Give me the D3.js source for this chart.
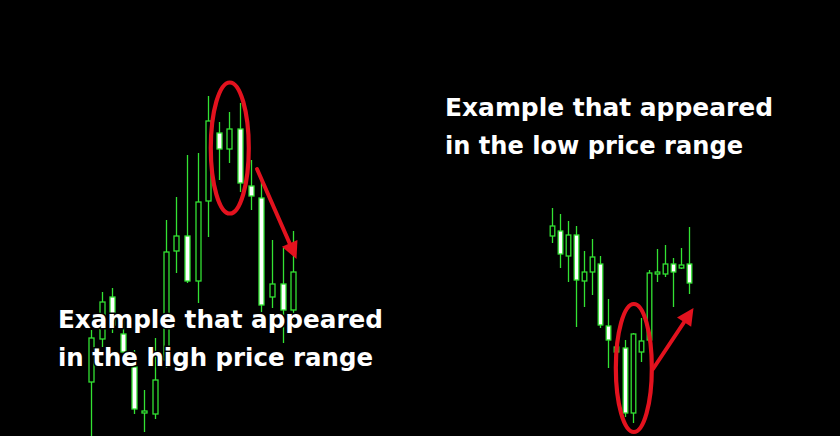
<!DOCTYPE html>
<html>
<head>
<meta charset="utf-8">
<script src="https://cdn.jsdelivr.net/npm/d3@7"></script>
<style>
  html, body { margin: 0; padding: 0; background: #000; }
  svg { display: block; }
</style>
</head>
<body>
<script>
// ---- Data (price in points on a shared vertical price scale) ----
// Left chart: candles around the high price range
const leftOpen  = [54, 97, 139, 102, 69, 23, 22, 76, 185, 200, 155, 235, 303, 287, 307, 250, 238, 139, 152, 126];
const leftHigh  = [106, 144, 148, 118, 86, 46, 98, 216, 239, 281, 283, 340, 314, 324, 333, 276, 256, 196, 188, 205];
const leftLow   = [0, 89, 103, 74, 22, 4, 17, 68, 163, 153, 133, 199, 256, 273, 244, 226, 124, 128, 93, 116];
const leftClose = [98, 134, 111, 84, 27, 25, 56, 184, 200, 155, 234, 315, 287, 307, 253, 240, 131, 152, 126, 164];

// Right chart: candles around the low price range
const rightOpen  = [200, 205, 180, 201, 155, 164, 172, 110, 84, 88, 23, 84, 96, 162, 162, 172, 168, 172];
const rightHigh  = [228, 222, 215, 210, 185, 197, 180, 137, 93, 96, 103, 118, 166, 187, 191, 178, 188, 209];
const rightLow   = [193, 168, 154, 109, 129, 141, 108, 68, 80, 19, 13, 74, 96, 154, 159, 129, 167, 142];
const rightClose = [210, 182, 201, 156, 164, 179, 111, 96, 89, 23, 102, 95, 163, 164, 172, 164, 171, 153];

const leftLabel  = ["Example that appeared", "in the high price range"];
const rightLabel = ["Example that appeared", "in the low price range"];

// ---- Setup ----
const W = 840, H = 436;
const svg = d3.select("body").append("svg").attr("width", W).attr("height", H);
svg.append("rect").attr("width", W).attr("height", H).attr("fill", "#000");

const y = d3.scaleLinear().domain([0, 436]).range([436, 0]);

const GREEN = "#33e233";
const RED = "#e3121e";

function toCandles(o, h, l, c) {
  return o.map((v, i) => ({ i, open: v, high: h[i], low: l[i], close: c[i] }));
}

function drawCandles(g, data, x, bodyW) {
  const cg = g.append("g");
  cg.selectAll("line.wick").data(data).join("line")
    .attr("class", "wick")
    .attr("x1", d => Math.round(x(d.i)) + 0.5)
    .attr("x2", d => Math.round(x(d.i)) + 0.5)
    .attr("y1", d => y(d.high))
    .attr("y2", d => y(d.low))
    .attr("stroke", GREEN).attr("stroke-width", 1.3);
  cg.selectAll("rect.body").data(data).join("rect")
    .attr("class", "body")
    .attr("x", d => Math.round(x(d.i)) + 0.5 - bodyW / 2)
    .attr("width", bodyW)
    .attr("y", d => y(Math.max(d.open, d.close)))
    .attr("height", d => Math.max(1, Math.abs(y(d.open) - y(d.close))))
    .attr("fill", d => d.close >= d.open ? "#000" : "#ffffff")
    .attr("stroke", GREEN).attr("stroke-width", 1.3);
}

const left = toCandles(leftOpen, leftHigh, leftLow, leftClose);
const right = toCandles(rightOpen, rightHigh, rightLow, rightClose);

const xL = d3.scaleLinear().domain([0, left.length - 1]).range([91, 293.4]);
const xR = d3.scaleLinear().domain([0, right.length - 1]).range([552.3, 688.7]);

const gL = svg.append("g");
const gR = svg.append("g");
drawCandles(gL, left, xL, 5);
drawCandles(gR, right, xR, 4.6);

// ---- Annotations: ellipses and arrows ----
function arrow(g, x1, y1, x2, y2) {
  const dx = x2 - x1, dy = y2 - y1, len = Math.hypot(dx, dy);
  const ux = dx / len, uy = dy / len;
  const headL = 17, headW = 8.5;
  const bx = x2 - ux * headL, by = y2 - uy * headL;
  g.append("line")
    .attr("x1", x1).attr("y1", y1).attr("x2", bx + ux * 2).attr("y2", by + uy * 2)
    .attr("stroke", RED).attr("stroke-width", 4).attr("stroke-linecap", "round");
  g.append("path")
    .attr("d", `M${x2},${y2} L${bx - uy * headW},${by + ux * headW} L${bx + uy * headW},${by - ux * headW} Z`)
    .attr("fill", RED);
}

// left annotation: anchored around candles 12-14
const ann = svg.append("g");
ann.append("ellipse")
  .attr("cx", (xL(12) + xL(14)) / 2 + 0.3).attr("cy", y(288))
  .attr("rx", 19).attr("ry", 65.5)
  .attr("fill", "none").attr("stroke", RED).attr("stroke-width", 4.2);
arrow(ann, 257, y(267), 296.5, y(177));

// right annotation: around candles 9-11
ann.append("ellipse")
  .attr("cx", xR(10) + 1.3).attr("cy", y(68))
  .attr("rx", 18).attr("ry", 64)
  .attr("fill", "none").attr("stroke", RED).attr("stroke-width", 4.2);
arrow(ann, 653, y(67), 693.5, y(128));

// ---- Text ----
function label(lines, x0, baselines, widths) {
  const t = svg.append("g");
  lines.forEach((s, k) => {
    t.append("text")
      .attr("x", x0).attr("y", baselines[k])
      .attr("textLength", widths[k])
      .attr("lengthAdjust", "spacingAndGlyphs")
      .attr("font-family", "DejaVu Sans, Verdana, sans-serif")
      .attr("font-weight", "bold")
      .attr("font-size", 24)
      .attr("fill", "#ffffff")
      .attr("stroke", "#000").attr("stroke-width", 3)
      .attr("paint-order", "stroke")
      .text(s);
  });
}
label(leftLabel, 58, [328, 366], [325, 315]);
label(rightLabel, 445, [116, 154], [328, 298]);
</script>
</body>
</html>
